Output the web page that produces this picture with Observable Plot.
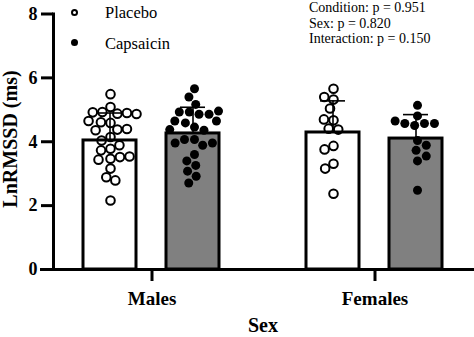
<!DOCTYPE html>
<html>
<head>
<meta charset="utf-8">
<script src="https://cdn.jsdelivr.net/npm/d3@7"></script>
<script src="https://cdn.jsdelivr.net/npm/@observablehq/plot@0.6"></script>
<style>
  body { margin: 0; background: #fff; }
  #wrap { position: relative; width: 474px; height: 337px; font-family: "Liberation Serif", "Times New Roman", serif; color: #000; }
  #wrap svg.plot { position: absolute; left: 0; top: 0; }
  .ov { position: absolute; white-space: nowrap; }
  .sw { position: absolute; border-radius: 50%; box-sizing: border-box; }
</style>
</head>
<body>
<div id="wrap"></div>
<script>
// ---- data ----
const sexes = ["Males", "Females"];
const conditions = ["Placebo", "Capsaicin"];
const malePlacebo = [5.49, 5.09, 4.93, 4.88, 4.90, 4.92, 4.87, 4.59, 4.61, 4.65, 4.38, 4.36, 4.40,
  4.15, 4.04, 3.78, 3.73, 3.89, 3.47, 3.52, 3.44, 3.54, 3.16, 2.89, 2.79, 2.16];
const maleCapsaicin = [5.66, 5.40, 5.17, 4.93, 4.86, 4.86, 4.93, 4.96, 4.46, 4.59, 4.65, 4.65, 4.36,
  4.38, 4.07, 4.07, 3.89, 3.96, 3.96, 3.60, 3.40, 3.26, 3.08, 2.92, 2.71];
const femalePlacebo = [5.66, 5.32, 5.40, 5.04, 4.67, 4.70, 4.41, 4.38, 3.87, 3.76, 3.31, 3.16, 2.37];
const femaleCapsaicin = [5.14, 4.81, 4.51, 4.57, 4.57, 4.57, 4.65, 4.04, 3.73, 3.89, 3.40, 3.55, 2.48];
// bar means and SD (order: Males-Placebo, Males-Capsaicin, Females-Placebo, Females-Capsaicin)
const meanValues = [4.04, 4.26, 4.29, 4.10];
const sdValues = [0.86, 0.82, 0.99, 0.75];
const yTicks = [0, 2, 4, 6, 8];
const statLabels = ["Condition: p = 0.951", "Sex: p = 0.820", "Interaction: p = 0.150"];
const yLabel = "LnRMSSD (ms)";
const xLabel = "Sex";

// ---- tables built from the arrays ----
const groups = [
  {sex: "Males", condition: "Placebo", values: malePlacebo},
  {sex: "Males", condition: "Capsaicin", values: maleCapsaicin},
  {sex: "Females", condition: "Placebo", values: femalePlacebo},
  {sex: "Females", condition: "Capsaicin", values: femaleCapsaicin}
];
const summary = groups.map((g, i) => ({sex: g.sex, condition: g.condition, mean: meanValues[i], sd: sdValues[i]}));
const points = groups.flatMap(g => g.values.map(v => ({sex: g.sex, condition: g.condition, value: v})));
const placeboPts = points.filter(d => d.condition === "Placebo");
const capsPts = points.filter(d => d.condition === "Capsaicin");

const font = "Liberation Serif, Times New Roman, serif";
const mLeft = 52;
// dodgeX("middle") centres on (marginLeft + facet width)/2 inside each facet; correct by -marginLeft/2
const dodgeFix = -mLeft / 2;
const condOffset = 42; // half the distance between the two bars of a group

const chart = Plot.plot({
  width: 474,
  height: 337,
  marginLeft: mLeft,
  marginRight: 0,
  marginTop: 13.5,
  marginBottom: 68,
  style: {fontFamily: font, color: "#000", background: "transparent"},
  facet: {marginTop: 0, marginBottom: 0, marginLeft: 0, marginRight: 0},
  fx: {domain: sexes, paddingInner: 0.116, paddingOuter: 0, label: null},
  x: {domain: conditions, padding: 0.357, axis: null},
  y: {domain: [0, 8]},
  color: {domain: conditions, range: ["#ffffff", "#808080"]},
  marks: [
    Plot.barY(summary, {fx: "sex", x: "condition", y: "mean", fill: "condition", stroke: "#000", strokeWidth: 3}),
    Plot.ruleX(summary, {fx: "sex", x: "condition", y1: "mean", y2: d => d.mean + d.sd, stroke: "#000", strokeWidth: 1.6}),
    Plot.tickY(summary, {fx: "sex", x: "condition", y: d => d.mean + d.sd, stroke: "#000", strokeWidth: 1.6, insetLeft: 14, insetRight: 14}),
    Plot.dot(placeboPts, Plot.dodgeX("middle", {fx: "sex", y: "value", r: 4.3, padding: 1.6, fill: "none", stroke: "#000", strokeWidth: 2, dx: dodgeFix - condOffset})),
    Plot.dot(capsPts, Plot.dodgeX("middle", {fx: "sex", y: "value", r: 4.5, padding: 1.4, fill: "#000", stroke: "none", dx: dodgeFix + condOffset})),
    Plot.ruleY([0], {stroke: "#000", strokeWidth: 3, insetLeft: -13, insetRight: -13}),
    Plot.frame({anchor: "left", facetAnchor: "left", stroke: "#000", strokeWidth: 3}),
    Plot.axisY({ticks: yTicks, tickSize: 12, tickPadding: 4, strokeWidth: 3, fontSize: 18, fontWeight: "bold", label: null, facetAnchor: "left"}),
    Plot.axisFx({anchor: "bottom", tickSize: 12, tickPadding: 10, strokeWidth: 3, fontSize: 19, fontWeight: "bold", label: null})
  ]
});
chart.classList.add("plot");
const wrap = document.getElementById("wrap");
wrap.appendChild(chart);

function addDiv(text, css) {
  const d = document.createElement("div");
  d.className = "ov";
  d.textContent = text;
  Object.assign(d.style, css);
  wrap.appendChild(d);
  return d;
}
function addSwatch(css) {
  const s = document.createElement("span");
  s.className = "sw";
  Object.assign(s.style, css);
  wrap.appendChild(s);
}
// legend
addSwatch({left: "70.5px", top: "9.2px", width: "7px", height: "7px", border: "2px solid #000"});
addSwatch({left: "70.5px", top: "39.2px", width: "7px", height: "7px", background: "#000"});
addDiv(conditions[0], {left: "105px", top: "4.5px", fontSize: "16.5px", lineHeight: "16.5px"});
addDiv(conditions[1], {left: "105px", top: "36.2px", fontSize: "16.5px", lineHeight: "16.5px"});
// stats annotation
const st = addDiv("", {left: "309px", top: "0px", fontSize: "14px", lineHeight: "15.6px"});
st.innerHTML = statLabels.map(s => s.replace(/&/g, "&amp;")).join("<br>");
// axis titles
addDiv(xLabel, {left: "163px", width: "200px", textAlign: "center", top: "317.2px", fontSize: "20px", lineHeight: "16px", fontWeight: "bold"});
addDiv(yLabel, {left: "-90px", width: "200px", height: "20px", textAlign: "center", top: "129px", fontSize: "20px", lineHeight: "20px", fontWeight: "bold", transform: "rotate(-90deg)"});
</script>
</body>
</html>
